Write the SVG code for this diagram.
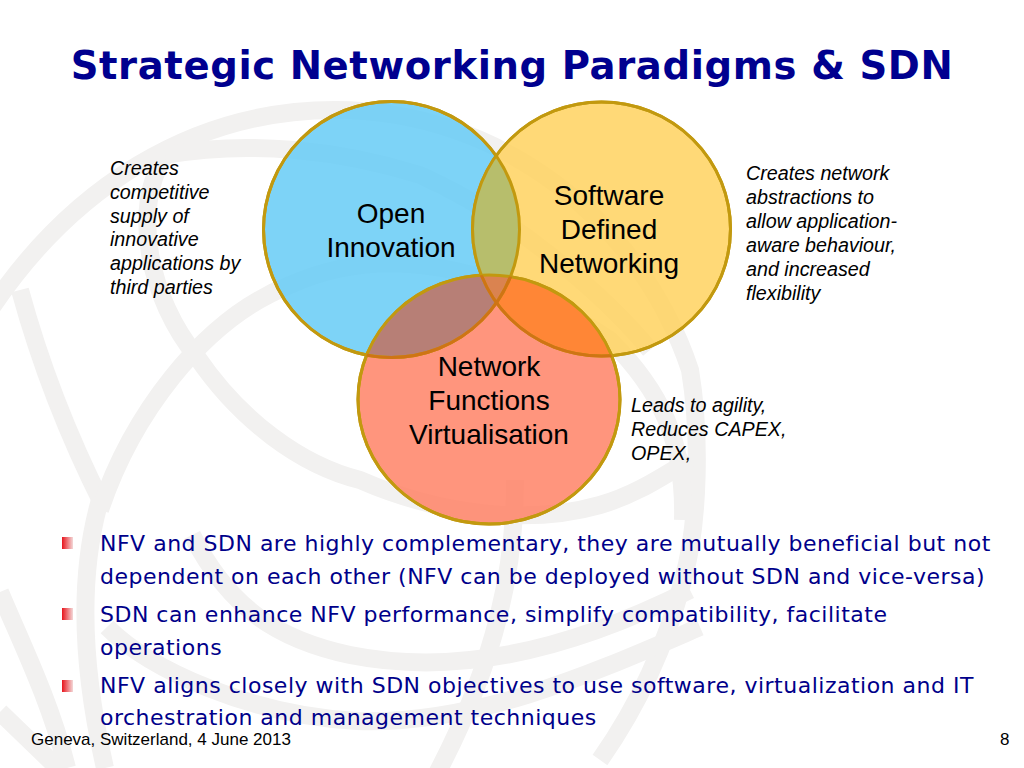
<svg xmlns="http://www.w3.org/2000/svg" width="1024" height="768" viewBox="0 0 1024 768">
<style>
.wm{fill:none;stroke:#f2f1f0;stroke-width:18}
.c{stroke:#c2990f;stroke-width:3}
.o{fill:none;stroke:#cf7414;stroke-width:3}
.t{font-family:"Liberation Sans",Arial,sans-serif;fill:#000}
.n{font-size:28px;text-anchor:middle}
.i{font-size:19.7px;font-style:italic}
.b{font-family:"DejaVu Sans",Verdana,sans-serif;font-size:22px;letter-spacing:.5px;fill:#00008a}
.f{font-size:17px}
</style>
<defs>
<linearGradient id="g"><stop offset="0" stop-color="#e8141c"/><stop offset="1" stop-color="#f3d8d8"/></linearGradient>
<clipPath id="ca"><circle cx="391.5" cy="229.5" r="128"/></clipPath>
<clipPath id="cb"><ellipse cx="601.5" cy="229" rx="129" ry="127"/></clipPath>
<clipPath id="cc"><ellipse cx="489" cy="399.5" rx="131" ry="124.5"/></clipPath>
</defs>
<rect width="1024" height="768" fill="#fff"/>
<g id="watermark">
<path class="wm" d="M-10 310C70 190 190 110 335 110C500 110 640 220 690 370C700 430 700 520 683 580C665 650 635 710 600 760"/>
<path class="wm" d="M20 290Q50 400 103 505"/>
<path class="wm" d="M100 510C130 420 200 320 290 285C400 235 520 280 610 340C660 390 685 440 683 520"/>
<path class="wm" d="M165 155C130 210 150 300 197 357C240 420 300 465 360 480C440 515 530 525 600 505C635 495 660 478 690 460"/>
<path class="wm" d="M165 155C250 140 340 150 420 175C510 215 600 290 650 350"/>
<path class="wm" d="M100 500C80 570 80 660 105 768"/>
<path class="wm" d="M0 592C20 640 50 700 67 768"/>
<path class="wm" d="M0 712L58 768"/>
<path class="wm" d="M192 535C230 610 280 640 350 655C450 675 560 655 690 590"/>
<path class="wm" d="M107 627C150 670 250 715 357 721C480 725 600 670 700 627"/>
<path class="wm" d="M515 480C515 560 500 660 428 790"/>
</g>
<text x="512" y="79" font-family="DejaVu Sans,sans-serif" font-weight="700" font-size="38.6" fill="#00008f" text-anchor="middle" letter-spacing=".6">Strategic Networking Paradigms &amp; SDN</text>
<g id="connectors"/>
<g id="open-innovation"><circle class="c" cx="391.5" cy="229.5" r="128" fill="#66cbf6" fill-opacity=".85"/></g>
<g id="sdn"><ellipse class="c" cx="601.5" cy="229" rx="129" ry="127" fill="#ffd25f" fill-opacity=".85"/></g>
<g id="nfv"><ellipse class="c" cx="489" cy="399.5" rx="131" ry="124.5" fill="#ff8266" fill-opacity=".85"/></g>
<g id="overlaps">
<g clip-path="url(#ca)"><ellipse cx="601.5" cy="229" rx="129" ry="127" fill="#b7be6c"/></g>
<g clip-path="url(#ca)"><ellipse cx="489" cy="399.5" rx="131" ry="124.5" fill="#b77f76"/></g>
<g clip-path="url(#cb)"><ellipse cx="489" cy="399.5" rx="131" ry="124.5" fill="#ff8636"/></g>
<g clip-path="url(#ca)"><g clip-path="url(#cb)"><ellipse cx="489" cy="399.5" rx="131" ry="124.5" fill="#da8350"/></g></g>
<circle cx="391.5" cy="229.5" r="128" fill="none" class="c"/>
<ellipse cx="601.5" cy="229" rx="129" ry="127" fill="none" class="c"/>
<ellipse cx="489" cy="399.5" rx="131" ry="124.5" fill="none" class="c"/>
<g clip-path="url(#cc)"><circle class="o" cx="391.5" cy="229.5" r="128"/><ellipse class="o" cx="601.5" cy="229" rx="129" ry="127"/></g>
</g>
<g class="t n">
<text x="391" y="223">Open</text><text x="391" y="257">Innovation</text>
<text x="609" y="205">Software</text><text x="609" y="239">Defined</text><text x="609" y="273">Networking</text>
<text x="489" y="376">Network</text><text x="489" y="410">Functions</text><text x="489" y="444">Virtualisation</text>
</g>
<g class="t i">
<text x="110" y="175">Creates</text><text x="110" y="199">competitive</text><text x="110" y="223">supply of</text><text x="110" y="246">innovative</text><text x="110" y="270">applications by</text><text x="110" y="294">third parties</text>
<text x="746" y="180">Creates network</text><text x="746" y="204">abstractions to</text><text x="746" y="228">allow application-</text><text x="746" y="252">aware behaviour,</text><text x="746" y="276">and increased</text><text x="746" y="300">flexibility</text>
<text x="631" y="412">Leads to agility,</text><text x="631" y="436">Reduces CAPEX,</text><text x="631" y="460">OPEX,</text>
</g>
<rect x="62" y="537" width="11" height="12" fill="url(#g)"/><rect x="62" y="608" width="11" height="12" fill="url(#g)"/><rect x="62" y="680" width="11" height="12" fill="url(#g)"/>
<g class="b">
<text x="100" y="551">NFV and SDN are highly complementary, they are mutually beneficial but not</text>
<text x="100" y="584">dependent on each other (NFV can be deployed without SDN and vice-versa)</text>
<text x="100" y="622">SDN can enhance NFV performance, simplify compatibility, facilitate</text>
<text x="100" y="655">operations</text>
<text x="100" y="693">NFV aligns closely with SDN objectives to use software, virtualization and IT</text>
<text x="100" y="725">orchestration and management techniques</text>
</g>
<text class="t f" x="31" y="745">Geneva, Switzerland, 4 June 2013</text>
<text class="t f" x="1000" y="745">8</text>
</svg>
